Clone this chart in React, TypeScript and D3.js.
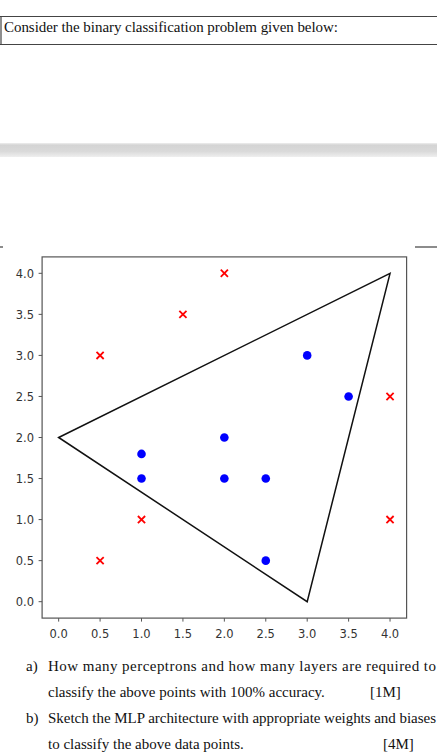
import React from "react";
import * as d3 from "d3";

const crossX = [2, 1.5, 0.5, 4, 1, 4, 0.5];
const crossY = [4, 3.5, 3, 2.5, 1, 1, 0.5];
const dotX = [3, 3.5, 2, 1, 1, 2, 2.5, 2.5];
const dotY = [3, 2.5, 2, 1.8, 1.5, 1.5, 1.5, 0.5];
const triX = [0, 4, 3];
const triY = [2, 4, 0];
const ticks = [0, 0.5, 1, 1.5, 2, 2.5, 3, 3.5, 4];

const header = "Consider the binary classification problem given below:";
const qa1 = "How many perceptrons and how many layers are required to";
const qa2 = "classify the above points with 100% accuracy.";
const qb1 = "Sketch the MLP architecture with appropriate weights and biases";
const qb2 = "to classify the above data points.";

export default function App() {
  const x = d3.scaleLinear().domain([-0.2, 4.2]).range([42.1, 406.6]);
  const y = d3.scaleLinear().domain([-0.2, 4.2]).range([618.1, 256.9]);
  const tri = d3
    .line<number>()
    .x((i) => x(triX[i]))
    .y((i) => y(triY[i]))
    .curve(d3.curveLinearClosed);
  const fmt = d3.format(".1f");
  const serif = "'Liberation Serif', 'Times New Roman', serif";
  const sans = "'DejaVu Sans', sans-serif";
  return (
    <svg
      width={437}
      height={752}
      style={{ position: "absolute", left: 0, top: 0, background: "#fff" }}
    >
      <defs>
        <linearGradient id="band" x1="0" y1="0" x2="0" y2="1">
          <stop offset="0" stopColor="#eeeeee" />
          <stop offset="0.15" stopColor="#d4d4d4" />
          <stop offset="0.6" stopColor="#dadada" />
          <stop offset="1" stopColor="#efefef" />
        </linearGradient>
      </defs>
      {/* header box */}
      <line x1={0} x2={437} y1={16.5} y2={16.5} stroke="#444" strokeWidth={1.2} />
      <line x1={0} x2={437} y1={44.5} y2={44.5} stroke="#444" strokeWidth={1.2} />
      <line x1={1} x2={1} y1={16} y2={45} stroke="#444" strokeWidth={1.2} />
      <text x={4} y={32} fontFamily={serif} fontSize={15} fill="#111" textLength={334} lengthAdjust="spacing">
        {header}
      </text>
      {/* gray band */}
      <rect x={0} y={143} width={437} height={14} fill="url(#band)" />
      {/* little segments */}
      <line x1={0} x2={3} y1={247} y2={247} stroke="#666" strokeWidth={1.5} />
      <line x1={415} x2={437} y1={247} y2={247} stroke="#666" strokeWidth={1.5} />

      {/* axes frame */}
      <rect
        x={x(-0.2)}
        y={y(4.2)}
        width={x(4.2) - x(-0.2)}
        height={y(-0.2) - y(4.2)}
        fill="none"
        stroke="#555"
        strokeWidth={1.2}
      />
      {ticks.map((t) => (
        <g key={"x" + t}>
          <line x1={x(t)} x2={x(t)} y1={y(-0.2)} y2={y(-0.2) + 3.5} stroke="#555" strokeWidth={1} />
          <text x={x(t)} y={y(-0.2) + 19.5} textAnchor="middle" fontFamily={sans} fontSize={11.5} fill="#333">
            {fmt(t)}
          </text>
        </g>
      ))}
      {ticks.map((t) => (
        <g key={"y" + t}>
          <line x1={x(-0.2) - 3.5} x2={x(-0.2)} y1={y(t)} y2={y(t)} stroke="#555" strokeWidth={1} />
          <text x={x(-0.2) - 8} y={y(t) + 4.2} textAnchor="end" fontFamily={sans} fontSize={11.5} fill="#333">
            {fmt(t)}
          </text>
        </g>
      ))}

      {/* triangle */}
      <path d={tri([0, 1, 2]) || ""} fill="none" stroke="#111" strokeWidth={1.5} />

      {/* crosses */}
      {crossX.map((cx, i) => {
        const px = x(cx);
        const py = y(crossY[i]);
        const s = 3.6;
        return (
          <g key={"c" + i} stroke="#ff0000" strokeWidth={1.8}>
            <line x1={px - s} x2={px + s} y1={py - s} y2={py + s} />
            <line x1={px - s} x2={px + s} y1={py + s} y2={py - s} />
          </g>
        );
      })}
      {/* dots */}
      {dotX.map((dx, i) => (
        <circle key={"d" + i} cx={x(dx)} cy={y(dotY[i])} r={4.3} fill="#0000ff" />
      ))}

      {/* questions */}
      <g fontFamily={serif} fontSize={15} fill="#111">
        <text x={26} y={671}>a)</text>
        <text x={48} y={671} textLength={388} lengthAdjust="spacing">{qa1}</text>
        <text x={48} y={697}>{qa2}</text>
        <text x={370} y={697}>[1M]</text>
        <text x={26} y={723}>b)</text>
        <text x={48} y={723} textLength={388} lengthAdjust="spacing">{qb1}</text>
        <text x={48} y={749}>{qb2}</text>
        <text x={383} y={749}>[4M]</text>
      </g>
    </svg>
  );
}
